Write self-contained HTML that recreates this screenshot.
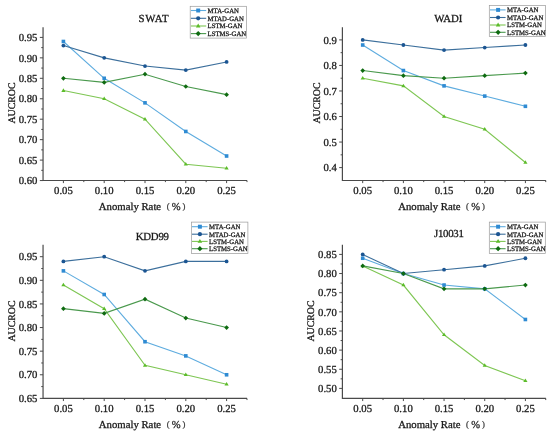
<!DOCTYPE html>
<html><head><meta charset="utf-8"><title>AUCROC charts</title>
<style>svg text{text-rendering:geometricPrecision;stroke:#1a1a1a;stroke-width:0.3px}html,body{margin:0;padding:0;background:#fff;width:550px;height:434px;overflow:hidden}svg{display:block;filter:blur(0.3px)}svg text.lt{stroke:none}svg text.pr{stroke:#3a3a3a;stroke-width:0.25px}svg text.lg{stroke-width:0.28px}</style>
</head><body>
<svg width="550" height="434" viewBox="0 0 550 434" font-family='"Liberation Serif", serif' fill="#1a1a1a">
<rect width="550" height="434" fill="#fff"/>
<path d="M43.05,27.20V181.10M42.45,180.50H247.00" stroke="#4a4a4a" stroke-width="1.2" fill="none"/>
<text x="37.45" y="184.25" text-anchor="end" font-size="10.7">0.60</text>
<text x="37.45" y="163.80" text-anchor="end" font-size="10.7">0.65</text>
<text x="37.45" y="143.35" text-anchor="end" font-size="10.7">0.70</text>
<text x="37.45" y="122.90" text-anchor="end" font-size="10.7">0.75</text>
<text x="37.45" y="102.45" text-anchor="end" font-size="10.7">0.80</text>
<text x="37.45" y="82.00" text-anchor="end" font-size="10.7">0.85</text>
<text x="37.45" y="61.55" text-anchor="end" font-size="10.7">0.90</text>
<text x="37.45" y="41.10" text-anchor="end" font-size="10.7">0.95</text>
<text x="63.40" y="193.90" text-anchor="middle" font-size="10.7">0.05</text>
<text x="104.20" y="193.90" text-anchor="middle" font-size="10.7">0.10</text>
<text x="145.00" y="193.90" text-anchor="middle" font-size="10.7">0.15</text>
<text x="185.80" y="193.90" text-anchor="middle" font-size="10.7">0.20</text>
<text x="226.60" y="193.90" text-anchor="middle" font-size="10.7">0.25</text>
<path d="M39.85,180.55H43.05M39.85,160.10H43.05M39.85,139.65H43.05M39.85,119.20H43.05M39.85,98.75H43.05M39.85,78.30H43.05M39.85,57.85H43.05M39.85,37.40H43.05M41.25,170.32H43.05M41.25,149.87H43.05M41.25,129.42H43.05M41.25,108.97H43.05M41.25,88.52H43.05M41.25,68.07H43.05M41.25,47.62H43.05M63.40,180.50V183.10M104.20,180.50V183.10M145.00,180.50V183.10M185.80,180.50V183.10M226.60,180.50V183.10M83.80,180.50V182.10M124.60,180.50V182.10M165.40,180.50V182.10M206.20,180.50V182.10M247.00,180.50V182.10" stroke="#4a4a4a" stroke-width="1" fill="none"/>
<text x="138.50" y="21.60" font-size="10.8" textLength="30.20" lengthAdjust="spacing">SWAT</text>
<text x="98.85" y="209.80" font-size="10.6" textLength="62.3" lengthAdjust="spacingAndGlyphs">Anomaly Rate</text>
<text x="166.65" y="208.90" font-size="8.6" fill="#3a3a3a" class="pr">(</text>
<text x="171.85" y="209.80" font-size="10.6" fill="#444">%</text>
<text x="182.55" y="208.90" font-size="8.6" fill="#3a3a3a" class="pr">)</text>
<text transform="translate(14.70,103.00) rotate(-90)" text-anchor="middle" font-size="10" textLength="41" lengthAdjust="spacingAndGlyphs">AUCROC</text>
<path d="M63.40,41.49L104.20,78.30L145.00,102.84L185.80,131.47L226.60,156.01" stroke="#5eacdf" stroke-width="1.1" fill="none"/>
<path d="M63.40,45.58L104.20,57.85L145.00,66.03L185.80,70.12L226.60,61.94" stroke="#3c6f9c" stroke-width="1.1" fill="none"/>
<path d="M63.40,90.57L104.20,98.75L145.00,119.20L185.80,164.19L226.60,168.28" stroke="#7ec653" stroke-width="1.1" fill="none"/>
<path d="M63.40,78.30L104.20,82.39L145.00,74.21L185.80,86.48L226.60,94.66" stroke="#4a994d" stroke-width="1.1" fill="none"/>
<rect x="61.60" y="39.69" width="3.60" height="3.60" fill="#2f8bd3"/>
<rect x="102.40" y="76.50" width="3.60" height="3.60" fill="#2f8bd3"/>
<rect x="143.20" y="101.04" width="3.60" height="3.60" fill="#2f8bd3"/>
<rect x="184.00" y="129.67" width="3.60" height="3.60" fill="#2f8bd3"/>
<rect x="224.80" y="154.21" width="3.60" height="3.60" fill="#2f8bd3"/>
<circle cx="63.40" cy="45.58" r="1.90" fill="#1b5592"/>
<circle cx="104.20" cy="57.85" r="1.90" fill="#1b5592"/>
<circle cx="145.00" cy="66.03" r="1.90" fill="#1b5592"/>
<circle cx="185.80" cy="70.12" r="1.90" fill="#1b5592"/>
<circle cx="226.60" cy="61.94" r="1.90" fill="#1b5592"/>
<path d="M63.40,88.37L65.49,91.89L61.31,91.89Z" fill="#5cbc2a"/>
<path d="M104.20,96.55L106.29,100.07L102.11,100.07Z" fill="#5cbc2a"/>
<path d="M145.00,117.00L147.09,120.52L142.91,120.52Z" fill="#5cbc2a"/>
<path d="M185.80,161.99L187.89,165.51L183.71,165.51Z" fill="#5cbc2a"/>
<path d="M226.60,166.08L228.69,169.60L224.51,169.60Z" fill="#5cbc2a"/>
<path d="M63.40,75.95L65.75,78.30L63.40,80.65L61.05,78.30Z" fill="#0e6a10"/>
<path d="M104.20,80.04L106.55,82.39L104.20,84.74L101.85,82.39Z" fill="#0e6a10"/>
<path d="M145.00,71.86L147.35,74.21L145.00,76.56L142.65,74.21Z" fill="#0e6a10"/>
<path d="M185.80,84.13L188.15,86.48L185.80,88.83L183.45,86.48Z" fill="#0e6a10"/>
<path d="M226.60,92.31L228.95,94.66L226.60,97.01L224.25,94.66Z" fill="#0e6a10"/>
<rect x="190.20" y="6.30" width="56.40" height="31.80" fill="#fff" stroke="#9a9a9a" stroke-width="0.7"/>
<path d="M190.90,10.50H206.20" stroke="#5eacdf" stroke-width="1.1"/>
<rect x="196.22" y="8.52" width="3.96" height="3.96" fill="#2f8bd3"/>
<text x="207.60" y="12.90" font-size="6.75" class="lg">MTA-GAN</text>
<path d="M190.90,18.30H206.20" stroke="#3c6f9c" stroke-width="1.1"/>
<circle cx="198.20" cy="18.30" r="2.09" fill="#1b5592"/>
<text x="207.60" y="20.70" font-size="6.75" class="lg">MTAD-GAN</text>
<path d="M190.90,26.00H206.20" stroke="#7ec653" stroke-width="1.1"/>
<path d="M198.20,23.58L200.50,27.45L195.90,27.45Z" fill="#5cbc2a"/>
<text x="207.60" y="28.40" font-size="6.75" class="lg">LSTM-GAN</text>
<path d="M190.90,33.60H206.20" stroke="#4a994d" stroke-width="1.1"/>
<path d="M198.20,31.02L200.78,33.60L198.20,36.19L195.61,33.60Z" fill="#0e6a10"/>
<text x="207.60" y="36.00" font-size="6.75" class="lg">LSTMS-GAN</text>
<path d="M342.40,27.20V181.10M341.80,180.50H545.90" stroke="#4a4a4a" stroke-width="1.2" fill="none"/>
<text x="336.80" y="171.30" text-anchor="end" font-size="10.7">0.4</text>
<text x="336.80" y="145.76" text-anchor="end" font-size="10.7">0.5</text>
<text x="336.80" y="120.22" text-anchor="end" font-size="10.7">0.6</text>
<text x="336.80" y="94.68" text-anchor="end" font-size="10.7">0.7</text>
<text x="336.80" y="69.14" text-anchor="end" font-size="10.7">0.8</text>
<text x="336.80" y="43.60" text-anchor="end" font-size="10.7">0.9</text>
<text x="362.70" y="193.90" text-anchor="middle" font-size="10.7">0.05</text>
<text x="403.38" y="193.90" text-anchor="middle" font-size="10.7">0.10</text>
<text x="444.05" y="193.90" text-anchor="middle" font-size="10.7">0.15</text>
<text x="484.73" y="193.90" text-anchor="middle" font-size="10.7">0.20</text>
<text x="525.40" y="193.90" text-anchor="middle" font-size="10.7">0.25</text>
<path d="M339.20,167.60H342.4M339.20,142.06H342.4M339.20,116.52H342.4M339.20,90.98H342.4M339.20,65.44H342.4M339.20,39.90H342.4M340.60,154.83H342.4M340.60,129.29H342.4M340.60,103.75H342.4M340.60,78.21H342.4M340.60,52.67H342.4M362.70,180.50V183.10M403.38,180.50V183.10M444.05,180.50V183.10M484.73,180.50V183.10M525.40,180.50V183.10M383.04,180.50V182.10M423.71,180.50V182.10M464.39,180.50V182.10M505.06,180.50V182.10M545.74,180.50V182.10" stroke="#4a4a4a" stroke-width="1" fill="none"/>
<text x="434.20" y="21.90" font-size="10.8" textLength="28.10" lengthAdjust="spacing">WADI</text>
<text x="398.20" y="209.80" font-size="10.6" textLength="62.3" lengthAdjust="spacingAndGlyphs">Anomaly Rate</text>
<text x="466.00" y="208.90" font-size="8.6" fill="#3a3a3a" class="pr">(</text>
<text x="471.20" y="209.80" font-size="10.6" fill="#444">%</text>
<text x="481.90" y="208.90" font-size="8.6" fill="#3a3a3a" class="pr">)</text>
<text transform="translate(319.60,103.00) rotate(-90)" text-anchor="middle" font-size="10" textLength="41" lengthAdjust="spacingAndGlyphs">AUCROC</text>
<path d="M362.70,45.01L403.38,70.55L444.05,85.87L484.73,96.09L525.40,106.30" stroke="#5eacdf" stroke-width="1.1" fill="none"/>
<path d="M362.70,39.90L403.38,45.01L444.05,50.12L484.73,47.56L525.40,45.01" stroke="#3c6f9c" stroke-width="1.1" fill="none"/>
<path d="M362.70,78.21L403.38,85.87L444.05,116.52L484.73,129.29L525.40,162.49" stroke="#7ec653" stroke-width="1.1" fill="none"/>
<path d="M362.70,70.55L403.38,75.66L444.05,78.21L484.73,75.66L525.40,73.10" stroke="#4a994d" stroke-width="1.1" fill="none"/>
<rect x="360.90" y="43.21" width="3.60" height="3.60" fill="#2f8bd3"/>
<rect x="401.57" y="68.75" width="3.60" height="3.60" fill="#2f8bd3"/>
<rect x="442.25" y="84.07" width="3.60" height="3.60" fill="#2f8bd3"/>
<rect x="482.93" y="94.29" width="3.60" height="3.60" fill="#2f8bd3"/>
<rect x="523.60" y="104.50" width="3.60" height="3.60" fill="#2f8bd3"/>
<circle cx="362.70" cy="39.90" r="1.90" fill="#1b5592"/>
<circle cx="403.38" cy="45.01" r="1.90" fill="#1b5592"/>
<circle cx="444.05" cy="50.12" r="1.90" fill="#1b5592"/>
<circle cx="484.73" cy="47.56" r="1.90" fill="#1b5592"/>
<circle cx="525.40" cy="45.01" r="1.90" fill="#1b5592"/>
<path d="M362.70,76.01L364.79,79.53L360.61,79.53Z" fill="#5cbc2a"/>
<path d="M403.38,83.67L405.46,87.19L401.29,87.19Z" fill="#5cbc2a"/>
<path d="M444.05,114.32L446.14,117.84L441.96,117.84Z" fill="#5cbc2a"/>
<path d="M484.73,127.09L486.81,130.61L482.64,130.61Z" fill="#5cbc2a"/>
<path d="M525.40,160.29L527.49,163.81L523.31,163.81Z" fill="#5cbc2a"/>
<path d="M362.70,68.20L365.05,70.55L362.70,72.90L360.35,70.55Z" fill="#0e6a10"/>
<path d="M403.38,73.31L405.73,75.66L403.38,78.01L401.02,75.66Z" fill="#0e6a10"/>
<path d="M444.05,75.86L446.40,78.21L444.05,80.56L441.70,78.21Z" fill="#0e6a10"/>
<path d="M484.73,73.31L487.08,75.66L484.73,78.01L482.38,75.66Z" fill="#0e6a10"/>
<path d="M525.40,70.75L527.75,73.10L525.40,75.45L523.05,73.10Z" fill="#0e6a10"/>
<rect x="489.30" y="5.50" width="56.30" height="30.90" fill="#fff" stroke="#9a9a9a" stroke-width="0.7"/>
<path d="M490.00,9.90H505.60" stroke="#5eacdf" stroke-width="1.1"/>
<rect x="496.12" y="7.92" width="3.96" height="3.96" fill="#2f8bd3"/>
<text x="507.10" y="12.30" font-size="6.75" class="lg">MTA-GAN</text>
<path d="M490.00,17.50H505.60" stroke="#3c6f9c" stroke-width="1.1"/>
<circle cx="498.10" cy="17.50" r="2.09" fill="#1b5592"/>
<text x="507.10" y="19.90" font-size="6.75" class="lg">MTAD-GAN</text>
<path d="M490.00,25.00H505.60" stroke="#7ec653" stroke-width="1.1"/>
<path d="M498.10,22.58L500.40,26.45L495.80,26.45Z" fill="#5cbc2a"/>
<text x="507.10" y="27.40" font-size="6.75" class="lg">LSTM-GAN</text>
<path d="M490.00,32.30H505.60" stroke="#4a994d" stroke-width="1.1"/>
<path d="M498.10,29.71L500.69,32.30L498.10,34.88L495.52,32.30Z" fill="#0e6a10"/>
<text x="507.10" y="34.70" font-size="6.75" class="lg">LSTMS-GAN</text>
<path d="M43.05,244.70V399.05M42.45,398.45H247.00" stroke="#4a4a4a" stroke-width="1.2" fill="none"/>
<text x="37.45" y="402.10" text-anchor="end" font-size="10.7">0.65</text>
<text x="37.45" y="378.48" text-anchor="end" font-size="10.7">0.70</text>
<text x="37.45" y="354.87" text-anchor="end" font-size="10.7">0.75</text>
<text x="37.45" y="331.25" text-anchor="end" font-size="10.7">0.80</text>
<text x="37.45" y="307.63" text-anchor="end" font-size="10.7">0.85</text>
<text x="37.45" y="284.02" text-anchor="end" font-size="10.7">0.90</text>
<text x="37.45" y="260.40" text-anchor="end" font-size="10.7">0.95</text>
<text x="63.40" y="411.85" text-anchor="middle" font-size="10.7">0.05</text>
<text x="104.20" y="411.85" text-anchor="middle" font-size="10.7">0.10</text>
<text x="145.00" y="411.85" text-anchor="middle" font-size="10.7">0.15</text>
<text x="185.80" y="411.85" text-anchor="middle" font-size="10.7">0.20</text>
<text x="226.60" y="411.85" text-anchor="middle" font-size="10.7">0.25</text>
<path d="M39.85,398.40H43.05M39.85,374.78H43.05M39.85,351.17H43.05M39.85,327.55H43.05M39.85,303.93H43.05M39.85,280.32H43.05M39.85,256.70H43.05M41.25,386.59H43.05M41.25,362.97H43.05M41.25,339.36H43.05M41.25,315.74H43.05M41.25,292.12H43.05M41.25,268.51H43.05M63.40,398.45V401.05M104.20,398.45V401.05M145.00,398.45V401.05M185.80,398.45V401.05M226.60,398.45V401.05M83.80,398.45V400.05M124.60,398.45V400.05M165.40,398.45V400.05M206.20,398.45V400.05M247.00,398.45V400.05" stroke="#4a4a4a" stroke-width="1" fill="none"/>
<text x="135.80" y="239.50" font-size="10.8" textLength="33.10" lengthAdjust="spacing">KDD99</text>
<text x="98.85" y="427.50" font-size="10.6" textLength="62.3" lengthAdjust="spacingAndGlyphs">Anomaly Rate</text>
<text x="166.65" y="426.60" font-size="8.6" fill="#3a3a3a" class="pr">(</text>
<text x="171.85" y="427.50" font-size="10.6" fill="#444">%</text>
<text x="182.55" y="426.60" font-size="8.6" fill="#3a3a3a" class="pr">)</text>
<text transform="translate(14.70,321.00) rotate(-90)" text-anchor="middle" font-size="10" textLength="41" lengthAdjust="spacingAndGlyphs">AUCROC</text>
<path d="M63.40,270.87L104.20,294.49L145.00,341.72L185.80,355.89L226.60,374.78" stroke="#5eacdf" stroke-width="1.1" fill="none"/>
<path d="M63.40,261.42L104.20,256.70L145.00,270.87L185.80,261.42L226.60,261.42" stroke="#3c6f9c" stroke-width="1.1" fill="none"/>
<path d="M63.40,285.04L104.20,308.66L145.00,365.34L185.80,374.78L226.60,384.23" stroke="#7ec653" stroke-width="1.1" fill="none"/>
<path d="M63.40,308.66L104.20,313.38L145.00,299.21L185.80,318.10L226.60,327.55" stroke="#4a994d" stroke-width="1.1" fill="none"/>
<rect x="61.60" y="269.07" width="3.60" height="3.60" fill="#2f8bd3"/>
<rect x="102.40" y="292.69" width="3.60" height="3.60" fill="#2f8bd3"/>
<rect x="143.20" y="339.92" width="3.60" height="3.60" fill="#2f8bd3"/>
<rect x="184.00" y="354.09" width="3.60" height="3.60" fill="#2f8bd3"/>
<rect x="224.80" y="372.98" width="3.60" height="3.60" fill="#2f8bd3"/>
<circle cx="63.40" cy="261.42" r="1.90" fill="#1b5592"/>
<circle cx="104.20" cy="256.70" r="1.90" fill="#1b5592"/>
<circle cx="145.00" cy="270.87" r="1.90" fill="#1b5592"/>
<circle cx="185.80" cy="261.42" r="1.90" fill="#1b5592"/>
<circle cx="226.60" cy="261.42" r="1.90" fill="#1b5592"/>
<path d="M63.40,282.84L65.49,286.36L61.31,286.36Z" fill="#5cbc2a"/>
<path d="M104.20,306.46L106.29,309.98L102.11,309.98Z" fill="#5cbc2a"/>
<path d="M145.00,363.14L147.09,366.66L142.91,366.66Z" fill="#5cbc2a"/>
<path d="M185.80,372.58L187.89,376.10L183.71,376.10Z" fill="#5cbc2a"/>
<path d="M226.60,382.03L228.69,385.55L224.51,385.55Z" fill="#5cbc2a"/>
<path d="M63.40,306.31L65.75,308.66L63.40,311.01L61.05,308.66Z" fill="#0e6a10"/>
<path d="M104.20,311.03L106.55,313.38L104.20,315.73L101.85,313.38Z" fill="#0e6a10"/>
<path d="M145.00,296.86L147.35,299.21L145.00,301.56L142.65,299.21Z" fill="#0e6a10"/>
<path d="M185.80,315.75L188.15,318.10L185.80,320.45L183.45,318.10Z" fill="#0e6a10"/>
<path d="M226.60,325.20L228.95,327.55L226.60,329.90L224.25,327.55Z" fill="#0e6a10"/>
<rect x="191.60" y="222.10" width="56.30" height="31.30" fill="#fff" stroke="#9a9a9a" stroke-width="0.7"/>
<path d="M192.00,226.70H207.60" stroke="#5eacdf" stroke-width="1.1"/>
<rect x="197.92" y="224.72" width="3.96" height="3.96" fill="#2f8bd3"/>
<text x="209.10" y="229.10" font-size="6.75" class="lg">MTA-GAN</text>
<path d="M192.00,234.20H207.60" stroke="#3c6f9c" stroke-width="1.1"/>
<circle cx="199.90" cy="234.20" r="2.09" fill="#1b5592"/>
<text x="209.10" y="236.60" font-size="6.75" class="lg">MTAD-GAN</text>
<path d="M192.00,241.40H207.60" stroke="#7ec653" stroke-width="1.1"/>
<path d="M199.90,238.98L202.20,242.85L197.60,242.85Z" fill="#5cbc2a"/>
<text x="209.10" y="243.80" font-size="6.75" class="lg">LSTM-GAN</text>
<path d="M192.00,248.70H207.60" stroke="#4a994d" stroke-width="1.1"/>
<path d="M199.90,246.11L202.49,248.70L199.90,251.28L197.31,248.70Z" fill="#0e6a10"/>
<text x="209.10" y="251.10" font-size="6.75" class="lg">LSTMS-GAN</text>
<path d="M342.40,244.80V399.05M341.80,398.45H545.90" stroke="#4a4a4a" stroke-width="1.2" fill="none"/>
<text x="336.80" y="392.10" text-anchor="end" font-size="10.7">0.50</text>
<text x="336.80" y="372.96" text-anchor="end" font-size="10.7">0.55</text>
<text x="336.80" y="353.81" text-anchor="end" font-size="10.7">0.60</text>
<text x="336.80" y="334.67" text-anchor="end" font-size="10.7">0.65</text>
<text x="336.80" y="315.53" text-anchor="end" font-size="10.7">0.70</text>
<text x="336.80" y="296.39" text-anchor="end" font-size="10.7">0.75</text>
<text x="336.80" y="277.24" text-anchor="end" font-size="10.7">0.80</text>
<text x="336.80" y="258.10" text-anchor="end" font-size="10.7">0.85</text>
<text x="362.70" y="411.85" text-anchor="middle" font-size="10.7">0.05</text>
<text x="403.38" y="411.85" text-anchor="middle" font-size="10.7">0.10</text>
<text x="444.05" y="411.85" text-anchor="middle" font-size="10.7">0.15</text>
<text x="484.73" y="411.85" text-anchor="middle" font-size="10.7">0.20</text>
<text x="525.40" y="411.85" text-anchor="middle" font-size="10.7">0.25</text>
<path d="M339.20,388.40H342.4M339.20,369.26H342.4M339.20,350.11H342.4M339.20,330.97H342.4M339.20,311.83H342.4M339.20,292.69H342.4M339.20,273.54H342.4M339.20,254.40H342.4M340.60,378.83H342.4M340.60,359.69H342.4M340.60,340.54H342.4M340.60,321.40H342.4M340.60,302.26H342.4M340.60,283.11H342.4M340.60,263.97H342.4M362.70,398.45V401.05M403.38,398.45V401.05M444.05,398.45V401.05M484.73,398.45V401.05M525.40,398.45V401.05M383.04,398.45V400.05M423.71,398.45V400.05M464.39,398.45V400.05M505.06,398.45V400.05M545.74,398.45V400.05" stroke="#4a4a4a" stroke-width="1" fill="none"/>
<text x="434.00" y="236.70" font-size="10.8" textLength="29.80" lengthAdjust="spacing">J10031</text>
<text x="398.20" y="427.50" font-size="10.6" textLength="62.3" lengthAdjust="spacingAndGlyphs">Anomaly Rate</text>
<text x="466.00" y="426.60" font-size="8.6" fill="#3a3a3a" class="pr">(</text>
<text x="471.20" y="427.50" font-size="10.6" fill="#444">%</text>
<text x="481.90" y="426.60" font-size="8.6" fill="#3a3a3a" class="pr">)</text>
<text transform="translate(314.00,321.00) rotate(-90)" text-anchor="middle" font-size="10" textLength="41" lengthAdjust="spacingAndGlyphs">AUCROC</text>
<path d="M362.70,258.23L403.38,273.54L444.05,285.03L484.73,288.86L525.40,319.49" stroke="#5eacdf" stroke-width="1.1" fill="none"/>
<path d="M362.70,254.40L403.38,273.54L444.05,269.71L484.73,265.89L525.40,258.23" stroke="#3c6f9c" stroke-width="1.1" fill="none"/>
<path d="M362.70,265.89L403.38,285.03L444.05,334.80L484.73,365.43L525.40,380.74" stroke="#7ec653" stroke-width="1.1" fill="none"/>
<path d="M362.70,265.89L403.38,273.54L444.05,288.86L484.73,288.86L525.40,285.03" stroke="#4a994d" stroke-width="1.1" fill="none"/>
<rect x="360.90" y="256.43" width="3.60" height="3.60" fill="#2f8bd3"/>
<rect x="401.57" y="271.74" width="3.60" height="3.60" fill="#2f8bd3"/>
<rect x="442.25" y="283.23" width="3.60" height="3.60" fill="#2f8bd3"/>
<rect x="482.93" y="287.06" width="3.60" height="3.60" fill="#2f8bd3"/>
<rect x="523.60" y="317.69" width="3.60" height="3.60" fill="#2f8bd3"/>
<circle cx="362.70" cy="254.40" r="1.90" fill="#1b5592"/>
<circle cx="403.38" cy="273.54" r="1.90" fill="#1b5592"/>
<circle cx="444.05" cy="269.71" r="1.90" fill="#1b5592"/>
<circle cx="484.73" cy="265.89" r="1.90" fill="#1b5592"/>
<circle cx="525.40" cy="258.23" r="1.90" fill="#1b5592"/>
<path d="M362.70,263.69L364.79,267.21L360.61,267.21Z" fill="#5cbc2a"/>
<path d="M403.38,282.83L405.46,286.35L401.29,286.35Z" fill="#5cbc2a"/>
<path d="M444.05,332.60L446.14,336.12L441.96,336.12Z" fill="#5cbc2a"/>
<path d="M484.73,363.23L486.81,366.75L482.64,366.75Z" fill="#5cbc2a"/>
<path d="M525.40,378.54L527.49,382.06L523.31,382.06Z" fill="#5cbc2a"/>
<path d="M362.70,263.54L365.05,265.89L362.70,268.24L360.35,265.89Z" fill="#0e6a10"/>
<path d="M403.38,271.19L405.73,273.54L403.38,275.89L401.02,273.54Z" fill="#0e6a10"/>
<path d="M444.05,286.51L446.40,288.86L444.05,291.21L441.70,288.86Z" fill="#0e6a10"/>
<path d="M484.73,286.51L487.08,288.86L484.73,291.21L482.38,288.86Z" fill="#0e6a10"/>
<path d="M525.40,282.68L527.75,285.03L525.40,287.38L523.05,285.03Z" fill="#0e6a10"/>
<rect x="489.30" y="222.10" width="56.00" height="31.30" fill="#fff" stroke="#9a9a9a" stroke-width="0.7"/>
<path d="M490.00,226.70H505.60" stroke="#5eacdf" stroke-width="1.1"/>
<rect x="496.12" y="224.72" width="3.96" height="3.96" fill="#2f8bd3"/>
<text x="507.10" y="229.10" font-size="6.75" class="lg">MTA-GAN</text>
<path d="M490.00,234.20H505.60" stroke="#3c6f9c" stroke-width="1.1"/>
<circle cx="498.10" cy="234.20" r="2.09" fill="#1b5592"/>
<text x="507.10" y="236.60" font-size="6.75" class="lg">MTAD-GAN</text>
<path d="M490.00,241.40H505.60" stroke="#7ec653" stroke-width="1.1"/>
<path d="M498.10,238.98L500.40,242.85L495.80,242.85Z" fill="#5cbc2a"/>
<text x="507.10" y="243.80" font-size="6.75" class="lg">LSTM-GAN</text>
<path d="M490.00,248.70H505.60" stroke="#4a994d" stroke-width="1.1"/>
<path d="M498.10,246.11L500.69,248.70L498.10,251.28L495.52,248.70Z" fill="#0e6a10"/>
<text x="507.10" y="251.10" font-size="6.75" class="lg">LSTMS-GAN</text>
</svg>
</body></html>
